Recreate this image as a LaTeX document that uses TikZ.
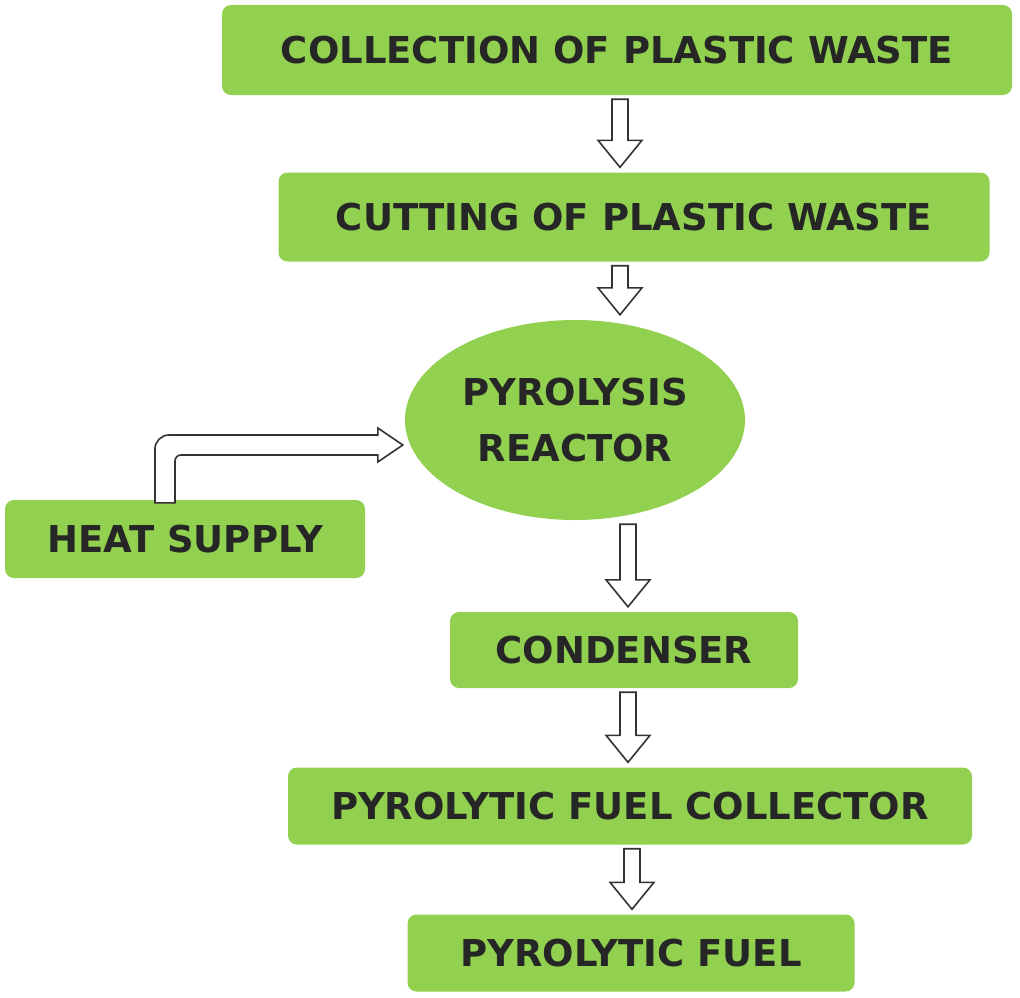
\documentclass[tikz,border=0pt]{standalone}
\usepackage{fontspec}
\setmainfont{DejaVu Sans}
\usetikzlibrary{shapes.geometric,calc}
\definecolor{boxg}{HTML}{92D050}
\tikzset{
 box/.style={fill=boxg,draw=none,rounded corners=9pt,font=\fontsize{37}{44}\selectfont\bfseries,text=black!85,inner sep=0pt},
 harrow/.style={draw=black!80,line width=1.6pt,fill=white,line join=miter}
}
\newcommand\darrow[3]{%
\draw[harrow] let \p1=(#2.south), \p2=(#3.north) in
 (#1pt-8pt,\y1-4pt) -- (#1pt+8pt,\y1-4pt) -- (#1pt+8pt,\y2+32pt) -- (#1pt+22pt,\y2+32pt) -- (#1pt,\y2+5pt) -- (#1pt-22pt,\y2+32pt) -- (#1pt-8pt,\y2+32pt) -- cycle;}
\begin{document}
\begin{tikzpicture}[x=1pt,y=-1pt]
\useasboundingbox (0,0) rectangle (1020,998);
\node[box,minimum width=790pt,minimum height=90pt] (col) at (617,50) {COLLECTION OF PLASTIC WASTE};
\node[box,minimum width=711pt,minimum height=89pt] (cut) at (634,217) {CUTTING OF PLASTIC WASTE};
\node[ellipse,fill=boxg,minimum width=340pt,minimum height=200pt,inner sep=0pt,align=center,font=\fontsize{37}{56}\selectfont\bfseries,text=black!85] (rea) at (575,420) {PYROLYSIS\\REACTOR};
\node[box,minimum width=360pt,minimum height=78pt] (heat) at (185,539) {HEAT SUPPLY};
\node[box,minimum width=348pt,minimum height=76pt] (con) at (624,650) {CONDENSER};
\node[box,minimum width=684pt,minimum height=77pt] (pfc) at (630,806) {PYROLYTIC FUEL COLLECTOR};
\node[box,minimum width=447pt,minimum height=77pt] (pf) at (631,953) {PYROLYTIC FUEL};
\darrow{620}{col}{cut}
\darrow{620}{cut}{rea}
\darrow{628}{rea}{con}
\darrow{628}{con}{pfc}
\darrow{632}{pfc}{pf}
\draw[harrow] let \p1=(heat.north), \p2=(rea.west) in
 (155pt,\y1-3pt) -- (155pt,-449pt) arc(180:90:14pt) -- (\x2-27pt,-435pt) -- (\x2-27pt,-428pt) -- (\x2-2pt,-445pt) -- (\x2-27pt,-462pt) -- (\x2-27pt,-455pt) -- (181pt,-455pt) arc(90:180:6pt) -- (175pt,\y1-3pt) -- cycle;
\end{tikzpicture}
\end{document}
